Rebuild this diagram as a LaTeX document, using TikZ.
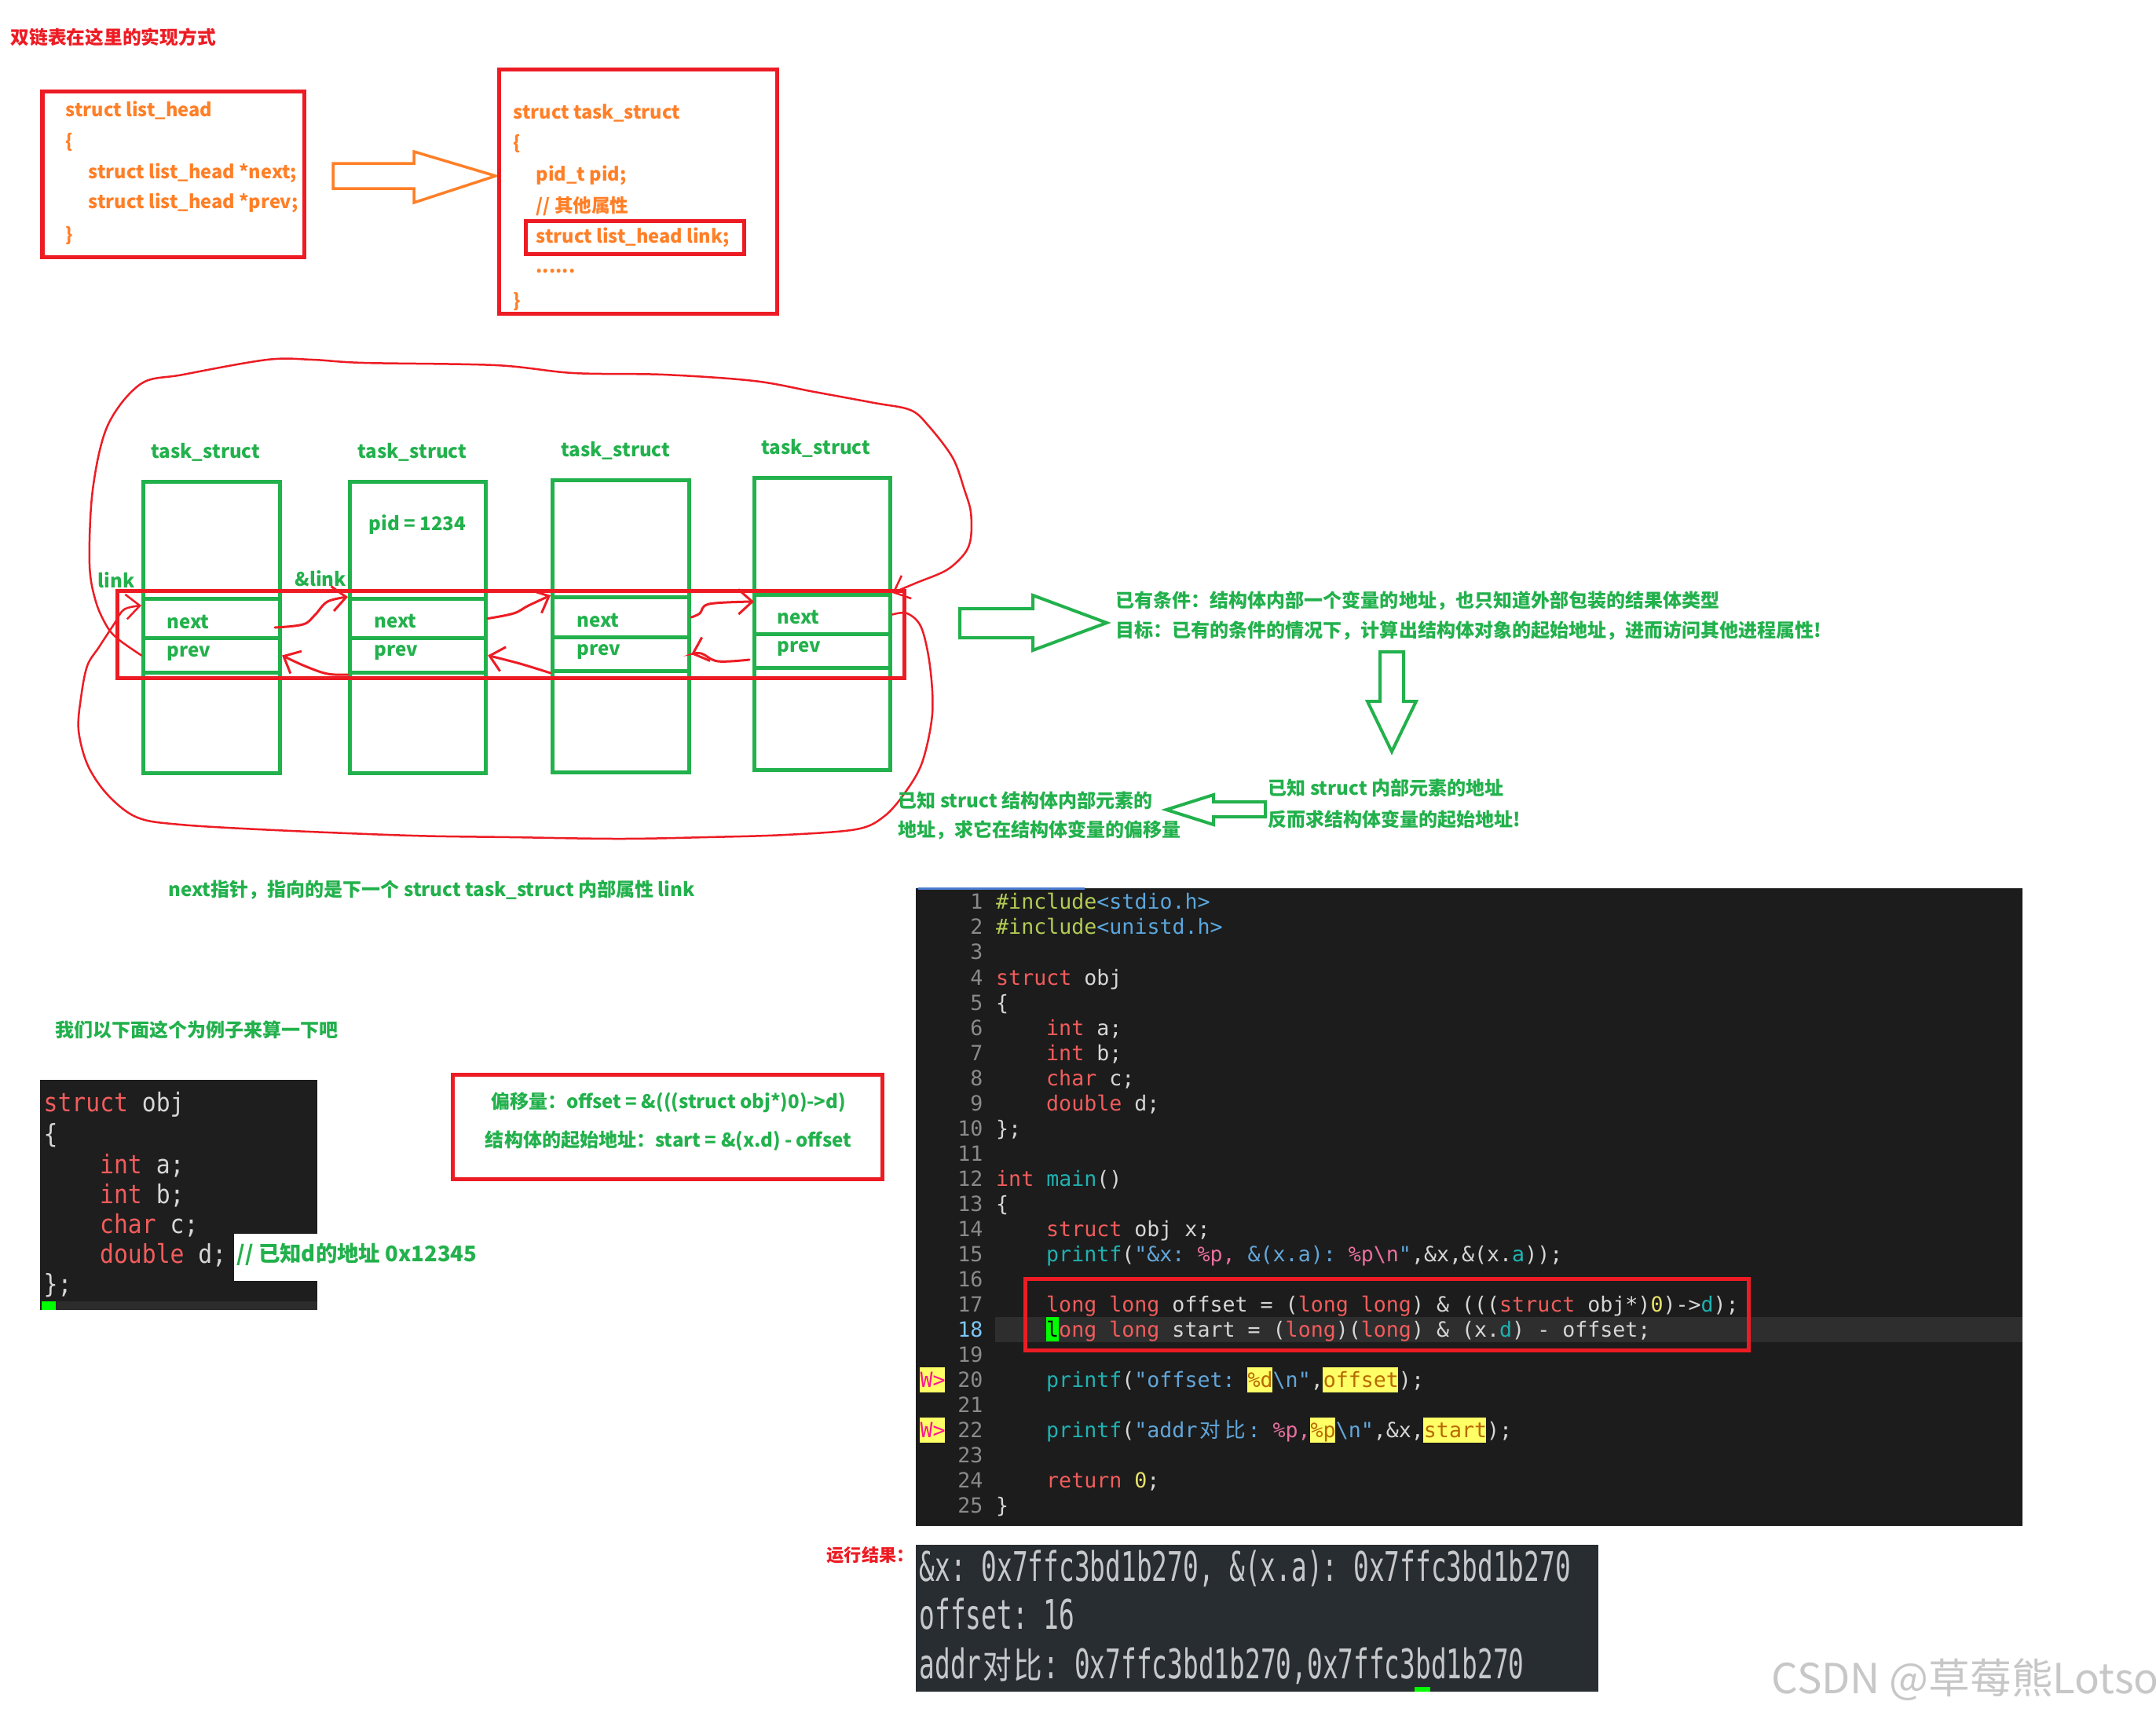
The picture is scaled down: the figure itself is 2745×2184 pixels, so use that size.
\documentclass[tikz,border=0pt]{standalone}
\usepackage{fontspec}
\usetikzlibrary{arrows.meta}
\newfontfamily\cjk{Noto Sans CJK SC}
\newfontfamily\cjkt{Noto Sans CJK SC}[FakeStretch=0.8]
\newfontfamily\mono{DejaVu Sans Mono}
\newfontfamily\monos{DejaVu Sans Mono}[FakeStretch=0.9]
\newfontfamily\monot{DejaVu Sans Mono}[FakeStretch=0.63]
\definecolor{pred}{HTML}{ED1C24}
\definecolor{pgreen}{HTML}{22B14C}
\definecolor{porange}{HTML}{FF7F27}
\definecolor{edbg}{HTML}{1C1C1C}
\definecolor{sbg}{HTML}{1E1E1E}
\definecolor{sbar}{HTML}{2C2C2C}
\definecolor{topblue}{HTML}{4A7BD0}
\definecolor{outbg}{HTML}{282D31}
\definecolor{kw}{HTML}{F25C5C}
\definecolor{inc}{HTML}{B4CC55}
\definecolor{hdr}{HTML}{5AA7DE}
\definecolor{tl}{HTML}{1FB2B2}
\definecolor{sb}{HTML}{62A6DA}
\definecolor{fp}{HTML}{E8709E}
\definecolor{ny}{HTML}{E8E26A}
\definecolor{pl}{HTML}{D6D6D6}
\definecolor{ln}{HTML}{8A8A8A}
\definecolor{lnc}{HTML}{7CC7F5}
\definecolor{hly}{HTML}{FFFF66}
\definecolor{hlt}{HTML}{B86A00}
\definecolor{wmg}{HTML}{FF1493}
\definecolor{outtx}{HTML}{C6C8CA}
\definecolor{rowhl}{HTML}{2E2E2E}
\frenchspacing
\newcommand\codeln[3]{\node[code] (c#1) at ({1267.5+16*#2},{1125.9+32.02*#1}) {#3};}
\newcommand\cjkcol[1]{\makebox[0.32cm]{\cjk #1}}
\newcommand\cjkout[1]{\makebox[0.395cm]{\cjkt\fontsize{13}{14}\selectfont #1}}
\tikzset{
  lbl/.style={inner sep=0pt, anchor=west, font=\cjk\bfseries\fontsize{6.83}{8}\selectfont},
  glbl/.style={lbl, text=pgreen},
  olbl/.style={lbl, text=porange, font=\cjk\bfseries\fontsize{6.7}{8}\selectfont},
  rlbl/.style={lbl, text=pred},
  redbox/.style={draw=pred, line width=0.05cm},
  tbox/.style={draw=pgreen, line width=0.05cm, anchor=north west, inner sep=0pt},
  blob/.style={draw=pred, line width=0.025cm, line cap=round, line join=round},
  redarr/.style={draw=pred, line width=0.03cm, line cap=round, -{Straight Barb[length=5pt,width=9pt]}},
  hollow/.style={line width=0.04cm, line join=miter},
  code/.style={anchor=base west, inner sep=0pt, text=pl, font=\mono\frenchspacing\fontsize{7.57}{9}\selectfont},
  lnst/.style={anchor=base east, inner sep=0pt, text=ln, font=\mono\fontsize{7.57}{9}\selectfont},
  scode/.style={anchor=base west, inner sep=0pt, text=pl, font=\monos\frenchspacing\fontsize{9.39}{11}\selectfont},
  ocode/.style={anchor=base west, inner sep=0pt, text=outtx, font=\monot\frenchspacing\fontsize{14.8}{16}\selectfont},
}
\begin{document}
\begin{tikzpicture}[x=0.01cm,y=-0.01cm]
\useasboundingbox (0,0) rectangle (2745,2184);
\fill[white] (0,0) rectangle (2745,2184);

% ---------- top part ----------
\node[rlbl, font=\cjk\bfseries\fontsize{6.75}{8}\selectfont] (title) at (13,47) {双链表在这里的实现方式};

\draw[redbox] (54,116) rectangle (387,327);
\node[olbl] (lh1) at (83,141) {struct list\_head};
\node[olbl] (lh2) at (83,181) {\{};
\node[olbl] (lh3) at (112,220) {struct list\_head *next;};
\node[olbl] (lh4) at (112,258) {struct list\_head *prev;};
\node[olbl] (lh5) at (83,300) {\}};

\draw[porange, hollow, line width=0.035cm] (424,208) -- (527,208) -- (527,193) -- (631,224) -- (527,258) -- (527,240) -- (424,240) -- cycle;

\draw[redbox] (635,88) rectangle (989,399);
\draw[redbox] (669,281) rectangle (947,323);
\node[olbl] (ts1) at (653,144) {struct task\_struct};
\node[olbl] (ts2) at (653,183) {\{};
\node[olbl] (ts3) at (682,223) {pid\_t pid;};
\node[olbl] (ts4) at (682,263) {// 其他属性};
\node[olbl] (ts5) at (682,302) {struct list\_head link;};
\node[olbl] (ts6) at (682,345) {......};
\node[olbl] (ts7) at (653,384) {\}};

% ---------- linked list ----------
\node[glbl, anchor=center] (h1) at (262,576) {task\_struct};
\node[glbl, anchor=center] (h2) at (525,576) {task\_struct};
\node[glbl, anchor=center] (h3) at (784,574) {task\_struct};
\node[glbl, anchor=center] (h4) at (1039,571) {task\_struct};

\node[tbox, minimum width=1.74cm, minimum height=3.71cm] (t1) at (180,611) {};
\node[tbox, minimum width=1.74cm, minimum height=0.50cm] (n1) at (180,760) {};
\node[tbox, minimum width=1.74cm, minimum height=0.44cm] (p1) at (180,810) {};
\node[tbox, minimum width=1.73cm, minimum height=3.71cm] (t2) at (443,611) {};
\node[tbox, minimum width=1.73cm, minimum height=0.50cm] (n2) at (443,760) {};
\node[tbox, minimum width=1.73cm, minimum height=0.44cm] (p2) at (443,810) {};
\node[tbox, minimum width=1.74cm, minimum height=3.72cm] (t3) at (701,609) {};
\node[tbox, minimum width=1.74cm, minimum height=0.51cm] (n3) at (701,758) {};
\node[tbox, minimum width=1.74cm, minimum height=0.43cm] (p3) at (701,809) {};
\node[tbox, minimum width=1.73cm, minimum height=3.72cm] (t4) at (958,606) {};
\node[tbox, minimum width=1.73cm, minimum height=0.50cm] (n4) at (958,755) {};
\node[tbox, minimum width=1.73cm, minimum height=0.43cm] (p4) at (958,805) {};

\node[glbl] (nx1) at (212,792) {next};
\node[glbl] (pv1) at (212,832) {prev};
\node[glbl] (nx2) at (476,791) {next};
\node[glbl] (pv2) at (476,831) {prev};
\node[glbl] (nx3) at (734,790) {next};
\node[glbl] (pv3) at (734,830) {prev};
\node[glbl] (nx4) at (989,786) {next};
\node[glbl] (pv4) at (989,826) {prev};
\node[glbl] (pid) at (469,668) {pid = 1234};
\node[glbl] (lk) at (124,739) {link};
\node[glbl] (alk) at (375,737) {\&link};

\draw[redbox] (149,752) rectangle (1151,863);

% pointers between cells
\coordinate (a12s) at (350,799);
\coordinate (a34e) at (960,766);
\coordinate (b43s) at (954,840);
\coordinate (n1in) at (180,771);
\draw[redarr] plot[smooth, tension=0.6] coordinates {(a12s) (386,795) (401,783) (417,766) (n2.north west)};
\draw[redarr] plot[smooth, tension=0.6] coordinates {(n2.east) (654,781) (673,771) (n3.north west)};
\draw[redarr] plot[smooth, tension=0.6] coordinates {(n3.east) (891,781) (903,769) (a34e)};
\draw[redarr] plot[smooth, tension=0.6] coordinates {(b43s) (914,842) (893,832) (p3.east)};
\draw[redarr] plot[smooth, tension=0.6] coordinates {(p3.south west) (662,845) (p2.east)};
\draw[redarr] plot[smooth, tension=0.6] coordinates {(p2.south west) (417,858) (388,848) (p1.east)};

% big freehand loop (top: first prev -> last; bottom: last next -> first next)
\draw[blob, -{Straight Barb[length=5pt,width=9pt]}] plot[smooth, tension=0.55] coordinates {
 (p1.west) (152,815) (137,799) (122,766) (114,718) (118,624) (137,542) (179,489)
 (233,477) (340,458) (398,458) (463,462) (631,465) (730,475) (845,477) (960,485)
 (1037,499) (1113,513) (1159,522) (1182,542) (1213,583) (1228,624) (1236,652)
 (1236,685) (1228,705) (1205,726) (1167,742) (n4.north east)};
\draw[blob, -{Straight Barb[length=5pt,width=9pt]}] plot[smooth, tension=0.55] coordinates {
 (n4.east) (1155,781) (1173,799) (1184,848) (1187,909) (1174,971) (1151,1011)
 (1125,1040) (1090,1056) (1000,1063) (900,1066) (788,1068) (650,1066) (525,1064)
 (350,1057) (230,1050) (175,1041) (138,1013) (112,975) (100,930) (103,889)
 (111,848) (126,824) (145,795) (158,776) (n1in)};

% ---------- right explanation ----------
\draw[pgreen, hollow] (1222,775) -- (1315,775) -- (1315,758) -- (1409,793) -- (1315,828) -- (1315,812) -- (1222,812) -- cycle;
\node[glbl] (cond1) at (1420,765) {已有条件：结构体内部一个变量的地址，也只知道外部包装的结果体类型};
\node[glbl] (cond2) at (1420,803) {目标：已有的条件的情况下，计算出结构体对象的起始地址，进而访问其他进程属性!};
\draw[pgreen, hollow] (1757,830) -- (1787,830) -- (1787,893) -- (1803,893) -- (1772,957) -- (1741,893) -- (1757,893) -- cycle;
\node[glbl] (kn1) at (1614,1003) {已知 struct 内部元素的地址};
\node[glbl] (kn2) at (1614,1043) {反而求结构体变量的起始地址!};
\draw[pgreen, hollow] (1611,1021) -- (1545,1021) -- (1545,1012) -- (1485,1031) -- (1545,1050) -- (1545,1040) -- (1611,1040) -- cycle;
\node[glbl] (kn3) at (1143,1019) {已知 struct 结构体内部元素的};
\node[glbl] (kn4) at (1143,1057) {地址，求它在结构体变量的偏移量};

\node[glbl] (nextnote) at (214,1133) {next指针，指向的是下一个 struct task\_struct 内部属性 link};
\node[glbl] (example) at (70,1311) {我们以下面这个为例子来算一下吧};

% ---------- small code ----------
\fill[sbg] (51,1375) rectangle (404,1668);
\fill[white] (298,1571) rectangle (404,1631);
\fill[sbar] (71,1657) rectangle (404,1668);
\fill[green] (53,1657) rectangle (71,1668);
\node[scode] (s1) at (55,1415) {\textcolor{kw}{struct} obj};
\node[scode] (s2) at (55,1455) {\{};
\node[scode] (s3) at (126.5,1494) {\textcolor{kw}{int} a;};
\node[scode] (s4) at (126.5,1532) {\textcolor{kw}{int} b;};
\node[scode] (s5) at (126.5,1570.5) {\textcolor{kw}{char} c;};
\node[scode] (s6) at (126.5,1608) {\textcolor{kw}{double} d;};
\node[scode] (s7) at (55,1646.5) {\};};
\node[glbl, font=\cjk\bfseries\fontsize{7.8}{9}\selectfont] (cm) at (301,1597) {// 已知d的地址 0x12345};

% ---------- formula box ----------
\draw[redbox] (576,1368) rectangle (1123,1501);
\node[glbl, anchor=center] (f1) at (851,1404) {偏移量：offset = \&(((struct obj*)0)->d)};
\node[glbl, anchor=center] (f2) at (851,1453) {结构体的起始地址：start = \&(x.d) - offset};

% ---------- editor ----------
\fill[edbg] (1166,1131) rectangle (2575,1943);
\fill[topblue] (1169,1130) rectangle (1381,1133);
\fill[rowhl] (1267,1677) rectangle (2575,1709);
\fill[green] (1331.5,1677) rectangle (1347.5,1708);
\fill[hly] (1587.5,1741) rectangle (1619.5,1773);
\fill[hly] (1683.5,1741) rectangle (1779.5,1773);
\fill[hly] (1667.5,1805) rectangle (1699.5,1837);
\fill[hly] (1811.5,1805) rectangle (1891.5,1837);
\fill[hly] (1171,1741) rectangle (1203,1773);
\fill[hly] (1171,1805) rectangle (1203,1837);
\node[code, text=wmg] (w20) at (1171,{1125.9+32.02*20}) {W>};
\node[code, text=wmg] (w22) at (1171,{1125.9+32.02*22}) {W>};

\foreach \i in {1,...,17,19,20,21,22,23,24,25} {\node[lnst] (l\i) at (1252,{1125.9+32.02*\i}) {\i};}
\node[lnst, text=lnc] (l18) at (1252,{1125.9+32.02*18}) {18};

\codeln{1}{0}{\textcolor{inc}{\#include}\textcolor{hdr}{<stdio.h>}}
\codeln{2}{0}{\textcolor{inc}{\#include}\textcolor{hdr}{<unistd.h>}}
\codeln{4}{0}{\textcolor{kw}{struct} obj}
\codeln{5}{0}{\{}
\codeln{6}{4}{\textcolor{kw}{int} a;}
\codeln{7}{4}{\textcolor{kw}{int} b;}
\codeln{8}{4}{\textcolor{kw}{char} c;}
\codeln{9}{4}{\textcolor{kw}{double} d;}
\codeln{10}{0}{\};}
\codeln{12}{0}{\textcolor{kw}{int} \textcolor{tl}{main}()}
\codeln{13}{0}{\{}
\codeln{14}{4}{\textcolor{kw}{struct} obj x;}
\codeln{15}{4}{\textcolor{tl}{printf}(\textcolor{sb}{"\&x: }\textcolor{fp}{\%p,} \textcolor{sb}{\&(x.a): }\textcolor{fp}{\%p\textbackslash n}\textcolor{sb}{"},\&x,\&(x.\textcolor{tl}{a}));}
\codeln{17}{4}{\textcolor{kw}{long long} offset = (\textcolor{kw}{long long}) \& (((\textcolor{kw}{struct} obj*)\textcolor{ny}{0})->\textcolor{tl}{d});}
\codeln{18}{4}{\textcolor{black}{l}\textcolor{kw}{ong long} start = (\textcolor{kw}{long})(\textcolor{kw}{long}) \& (x.\textcolor{tl}{d}) - offset;}
\codeln{20}{4}{\textcolor{tl}{printf}(\textcolor{sb}{"offset: }\textcolor{hlt}{\%d}\textcolor{sb}{\textbackslash n"},\textcolor{hlt}{offset});}
\codeln{22}{4}{\textcolor{tl}{printf}(\textcolor{sb}{"addr\cjkcol{对}\cjkcol{比}: }\textcolor{fp}{\%p,}\textcolor{hlt}{\%p}\textcolor{sb}{\textbackslash n"},\&x,\textcolor{hlt}{start});}
\codeln{24}{4}{\textcolor{kw}{return} \textcolor{ny}{0};}
\codeln{25}{0}{\}}

\draw[redbox] (1305,1628) rectangle (2226,1719);

% ---------- output ----------
\node[rlbl, font=\cjk\bfseries\fontsize{6.3}{8}\selectfont] (runres) at (1052,1980) {运行结果：};
\fill[outbg] (1166,1967) rectangle (2035,2154);
\fill[green] (1801,2148) rectangle (1821,2154);
\node[ocode] (o1) at (1170,2013) {\&x: 0x7ffc3bd1b270, \&(x.a): 0x7ffc3bd1b270};
\node[ocode] (o2) at (1170,2074) {offset: 16};
\node[ocode] (o3) at (1170,2137) {addr\cjkout{对}\cjkout{比}: 0x7ffc3bd1b270,0x7ffc3bd1b270};

\node[anchor=west, inner sep=0pt, text=black!22, font=\cjk\fontsize{15}{16}\selectfont] (wmk) at (2255,2139) {CSDN @草莓熊Lotso};
\end{tikzpicture}
\end{document}
